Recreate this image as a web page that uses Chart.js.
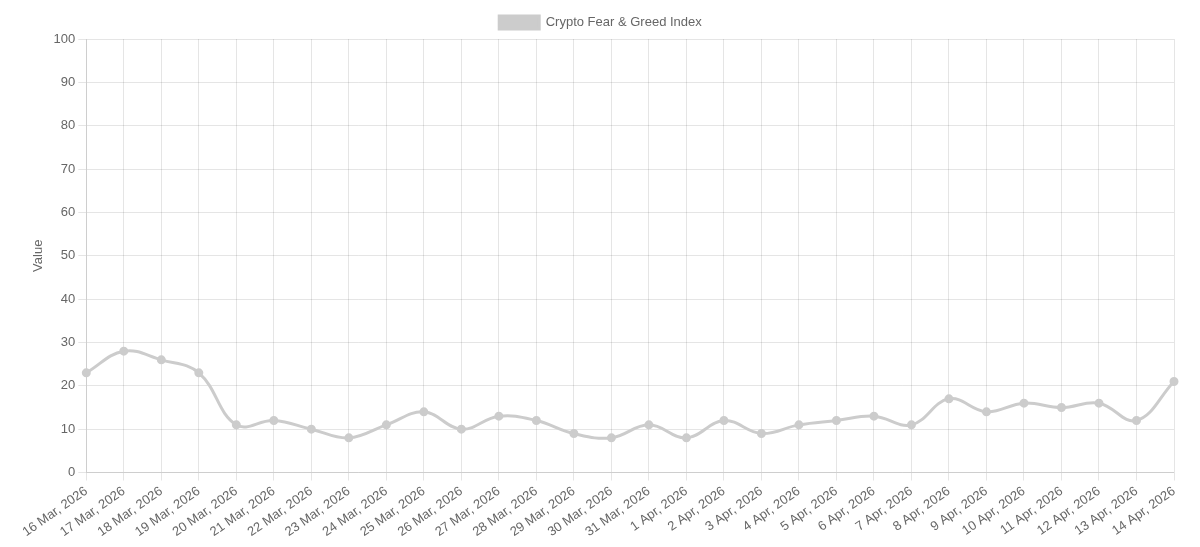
<!DOCTYPE html>
<html>
<head>
<meta charset="utf-8">
<script src="https://cdn.jsdelivr.net/npm/chart.js@4"></script>
<style>
html,body{margin:0;padding:0;background:#fff;}
#wrap{width:1200px;height:547px;position:relative;}
</style>
</head>
<body>
<div id="wrap"><canvas id="c"></canvas></div>
<script>
const categories = ["16 Mar, 2026","17 Mar, 2026","18 Mar, 2026","19 Mar, 2026","20 Mar, 2026","21 Mar, 2026","22 Mar, 2026","23 Mar, 2026","24 Mar, 2026","25 Mar, 2026","26 Mar, 2026","27 Mar, 2026","28 Mar, 2026","29 Mar, 2026","30 Mar, 2026","31 Mar, 2026","1 Apr, 2026","2 Apr, 2026","3 Apr, 2026","4 Apr, 2026","5 Apr, 2026","6 Apr, 2026","7 Apr, 2026","8 Apr, 2026","9 Apr, 2026","10 Apr, 2026","11 Apr, 2026","12 Apr, 2026","13 Apr, 2026","14 Apr, 2026"];
const fearGreedValues = [23,28,26,23,11,12,10,8,11,14,10,13,12,9,8,11,8,12,9,11,12,13,11,17,14,16,15,16,12,21];
const seriesName = "Crypto Fear & Greed Index";
const yAxisTitle = "Value";

Chart.defaults.font.family = "'Liberation Sans', Arial, sans-serif";
Chart.defaults.font.size = 13;
Chart.defaults.color = "#666";

new Chart(document.getElementById('c'), {
  type: 'line',
  data: {
    labels: categories,
    datasets: [{
      label: seriesName,
      data: fearGreedValues,
      borderColor: 'rgb(204,204,204)',
      backgroundColor: 'rgb(204,204,204)',
      borderWidth: 3,
      pointRadius: 3,
      pointBackgroundColor: 'rgb(204,204,204)',
      pointBorderColor: 'rgb(204,204,204)',
      tension: 0.4,
      fill: false
    }]
  },
  options: {
    responsive: true,
    maintainAspectRatio: false,
    animation: false,
    layout: { padding: { left: 27, right: 26, top: 6, bottom: 4 } },
    plugins: {
      legend: { display: true, position: 'top' }
    },
    scales: {
      y: {
        min: 0, max: 100,
        ticks: { stepSize: 10 },
        title: { display: true, text: yAxisTitle },
        grid: { color: 'rgba(0,0,0,0.1)' }
      },
      x: {
        grid: { color: 'rgba(0,0,0,0.1)' },
        ticks: { maxRotation: 50, minRotation: 0, autoSkip: false }
      }
    }
  }
});
</script>
</body>
</html>
